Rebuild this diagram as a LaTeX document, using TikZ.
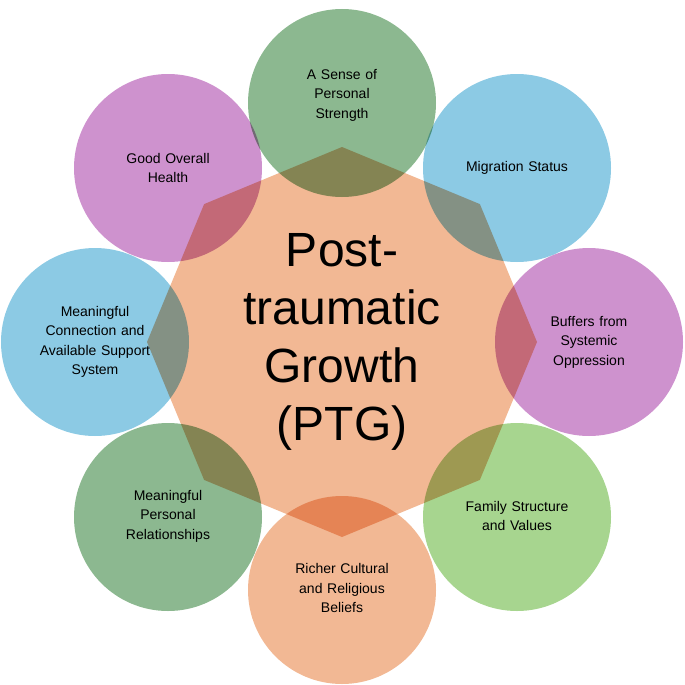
\documentclass[tikz,border=0pt]{standalone}
\usepackage{fontspec}
\setmainfont{Liberation Sans}
\usetikzlibrary{shapes.geometric}
\definecolor{cgreen}{HTML}{8CB890}
\definecolor{cblue}{HTML}{8CCAE4}
\definecolor{cpurple}{HTML}{CE92CE}
\definecolor{clgreen}{HTML}{A7D58F}
\definecolor{cpeach}{HTML}{F2B894}
\tikzset{
 outer/.style={circle,minimum size=188pt,inner sep=0pt,fill=#1,align=center,font=\fontsize{14}{19}\selectfont,text width=130pt},
 center/.style={regular polygon,regular polygon sides=8,shape border rotate=22.5,minimum size=390pt,fill=cpeach,inner sep=0pt}
}
\begin{document}
\begin{tikzpicture}[x=1pt,y=-1pt]
\useasboundingbox (0,0) rectangle (685,685);
\node[center] (c) at (342,342) {};
\begin{scope}[blend mode=multiply]
\node[outer=cgreen] (n1) at (342,103) {};
\node[outer=cblue] (n2) at (517,168) {};
\node[outer=cpurple] (n3) at (589,342) {};
\node[outer=clgreen] (n4) at (517,517) {};
\node[outer=cpeach] (n5) at (342,590) {};
\node[outer=cgreen] (n6) at (168,517) {};
\node[outer=cblue] (n7) at (95,342) {};
\node[outer=cpurple] (n8) at (168,168) {};
\end{scope}
\tikzset{lbl/.style={align=center,font=\fontsize{14}{19.5}\selectfont,text width=140pt}}
\node[lbl] (t1) at (342,95) {A Sense of\\Personal\\Strength};
\node[lbl] (t2) at (517,168) {Migration Status};
\node[lbl] (t3) at (589,342) {Buffers from\\Systemic\\Oppression};
\node[lbl] (t4) at (517,516) {Family Structure\\and Values};
\node[lbl] (t5) at (342,588) {Richer Cultural\\and Religious\\Beliefs};
\node[lbl] (t6) at (168,516) {Meaningful\\Personal\\Relationships};
\node[lbl] (t7) at (95,342) {Meaningful\\Connection and\\Available Support\\System};
\node[lbl] (t8) at (168,168) {Good Overall\\Health};
\node[align=center,font=\fontsize{48}{58}\selectfont] (tc) at (342,342) {Post-\\traumatic\\Growth\\(PTG)};
\end{tikzpicture}
\end{document}
